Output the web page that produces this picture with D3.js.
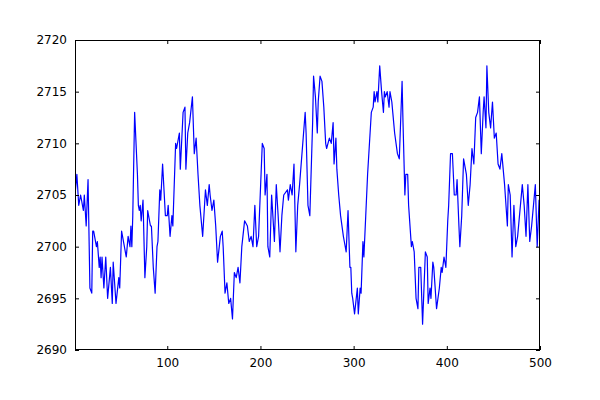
<!DOCTYPE html>
<html><head><meta charset="utf-8">
<script src="https://cdn.jsdelivr.net/npm/d3@7"></script>
<style>body{margin:0;background:#fff}svg{display:block}</style>
</head><body>
<svg id="c" width="600" height="400"></svg>
<script>
const xs = [1,2,3,5,7,10,11,13,15,17,19,20,21,24,25,27,28,29,30,32,34,36,39,41,42,45,48,49,51,54,56,58,60,61,62,63,65,68,69,70,71,72,74,76,78,79,82,83,85,87,89,90,92,93,95,98,100,101,103,105,106,109,110,113,114,117,119,120,122,124,127,129,131,133,135,138,141,143,145,146,148,150,152,154,157,159,160,162,164,166,168,170,172,174,176,178,180,183,186,188,190,192,194,196,198,202,204,205,207,208,210,212,215,217,219,221,223,225,229,230,232,234,236,238,240,242,248,249,251,253,256,257,259,261,262,264,266,268,270,271,274,276,278,279,281,282,284,286,289,290,292,294,296,297,298,299,301,304,305,307,308,310,311,313,315,319,321,322,323,325,326,328,330,332,333,334,336,338,339,341,342,344,347,349,352,353,355,356,358,359,362,363,365,367,369,370,372,374,377,379,380,382,383,385,386,389,392,394,395,397,399,401,402,404,406,408,410,411,413,414,416,418,421,423,425,427,429,431,433,435,437,439,440,442,443,445,447,449,451,453,455,457,459,462,465,466,468,470,472,474,476,481,483,485,487,489,491,495,497,499,500];
const ys = [2705,2706,2707,2704,2705,2703.5,2705,2702,2706.5,2696,2695.5,2701.5,2701.5,2700,2700.5,2698,2699,2697,2699,2696,2699,2695,2698,2694.5,2698.5,2694.5,2697,2696,2701.5,2700,2699,2701,2700,2702,2700,2703,2713,2707,2704,2703.5,2704,2702.5,2704.5,2697,2700,2703.5,2702,2702,2698,2695.5,2700,2700.5,2705.5,2704.5,2708,2703,2703,2704,2701,2703,2702,2710,2709.5,2711,2707.5,2713,2713.5,2707.5,2711,2712,2714.5,2709,2710.5,2707,2704,2701,2705.5,2704,2706,2705,2703.5,2704.5,2702,2698.5,2701,2701.5,2700,2695.5,2696.5,2694.5,2695,2693,2697.5,2697,2698,2696.5,2700,2702.5,2702,2700.5,2701,2700,2704,2700,2701,2710,2709.5,2705,2707,2700,2699,2705,2700.5,2706,2703,2699.5,2703,2705,2705.5,2704.5,2706,2705,2708,2699.5,2704,2706,2713,2711,2704,2703,2712,2716.5,2714.5,2711,2714,2716.5,2716,2713.5,2710,2709.5,2710.5,2710,2712,2708,2710.5,2707.5,2705,2703,2701,2700.5,2699.5,2703.5,2698,2698,2695.5,2695,2693.5,2696,2693.5,2696,2695.5,2700.5,2699,2703,2707,2713,2713.5,2715,2714,2715,2714,2717.5,2715,2713,2715,2714.5,2715,2713.5,2715,2714,2713,2711,2709,2708.5,2716,2712,2705,2707,2707,2704,2700,2700.5,2699.5,2695,2694,2698,2698,2692.5,2699.5,2699,2694.5,2696,2695,2698.5,2698,2694,2696,2698,2697.5,2699,2698,2702.5,2704,2709,2709,2705,2705,2706.5,2702,2700,2703,2708.5,2707,2704,2706,2709.5,2708,2712.5,2713,2714.5,2709,2713,2714.5,2711.5,2717.5,2713,2711.5,2714,2710.5,2711,2708,2707.5,2709,2706,2702,2706,2705,2699,2704,2700,2701,2706,2704,2701,2706,2700.5,2702,2706,2700,2704.5,2702];
const xTicks = [100,200,300,400,500];
const yTicks = [2690,2695,2700,2705,2710,2715,2720];

const svg = d3.select('#c');
const L=75,R=540,T=40,B=350;
const x = d3.scaleLinear().domain([1,500]).range([L,R]);
const y = d3.scaleLinear().domain([2690,2720]).range([B,T]);
const font = '"DejaVu Sans", sans-serif';

const data = xs.map((v,i)=>[v,ys[i]]);
svg.append('defs').append('clipPath').attr('id','clip').append('rect')
  .attr('x',L).attr('y',T).attr('width',R-L).attr('height',B-T);
svg.append('path').datum(data)
  .attr('clip-path','url(#clip)')
  .attr('fill','none').attr('stroke','#0000ff').attr('stroke-width',1.2)
  .attr('stroke-linejoin','round')
  .attr('d', d3.line().x(d=>x(d[0])).y(d=>y(d[1])));

const ax = d3.axisBottom(x).tickValues(xTicks).tickFormat(d3.format('d')).tickSizeInner(-4).tickSizeOuter(0).tickPadding(8);
const ay = d3.axisLeft(y).tickValues(yTicks).tickFormat(d3.format('d')).tickSizeInner(-4).tickSizeOuter(0).tickPadding(8);
const axTop = d3.axisTop(x).tickValues(xTicks).tickSizeInner(-4).tickSizeOuter(0).tickFormat('');
const ayR = d3.axisRight(y).tickValues(yTicks).tickSizeInner(-4).tickSizeOuter(0).tickFormat('');

function style(g){
  g.select('.domain').remove();
  g.selectAll('line').attr('stroke','#000').attr('stroke-width',1);
  g.selectAll('text').attr('fill','#000').style('font-family',font).style('font-size','12px');
}
svg.append('g').attr('transform',`translate(0,${B})`).call(ax).call(style);
svg.append('g').attr('transform',`translate(${L},0)`).call(ay).call(style);
svg.append('g').attr('transform',`translate(0,${T})`).call(axTop).call(style);
svg.append('g').attr('transform',`translate(${R},0)`).call(ayR).call(style);

svg.append('rect').attr('x',L+0.5).attr('y',T+0.5).attr('width',R-L-1).attr('height',B-T-1)
  .attr('fill','none').attr('stroke','#000').attr('stroke-width',1);
</script>
</body></html>
